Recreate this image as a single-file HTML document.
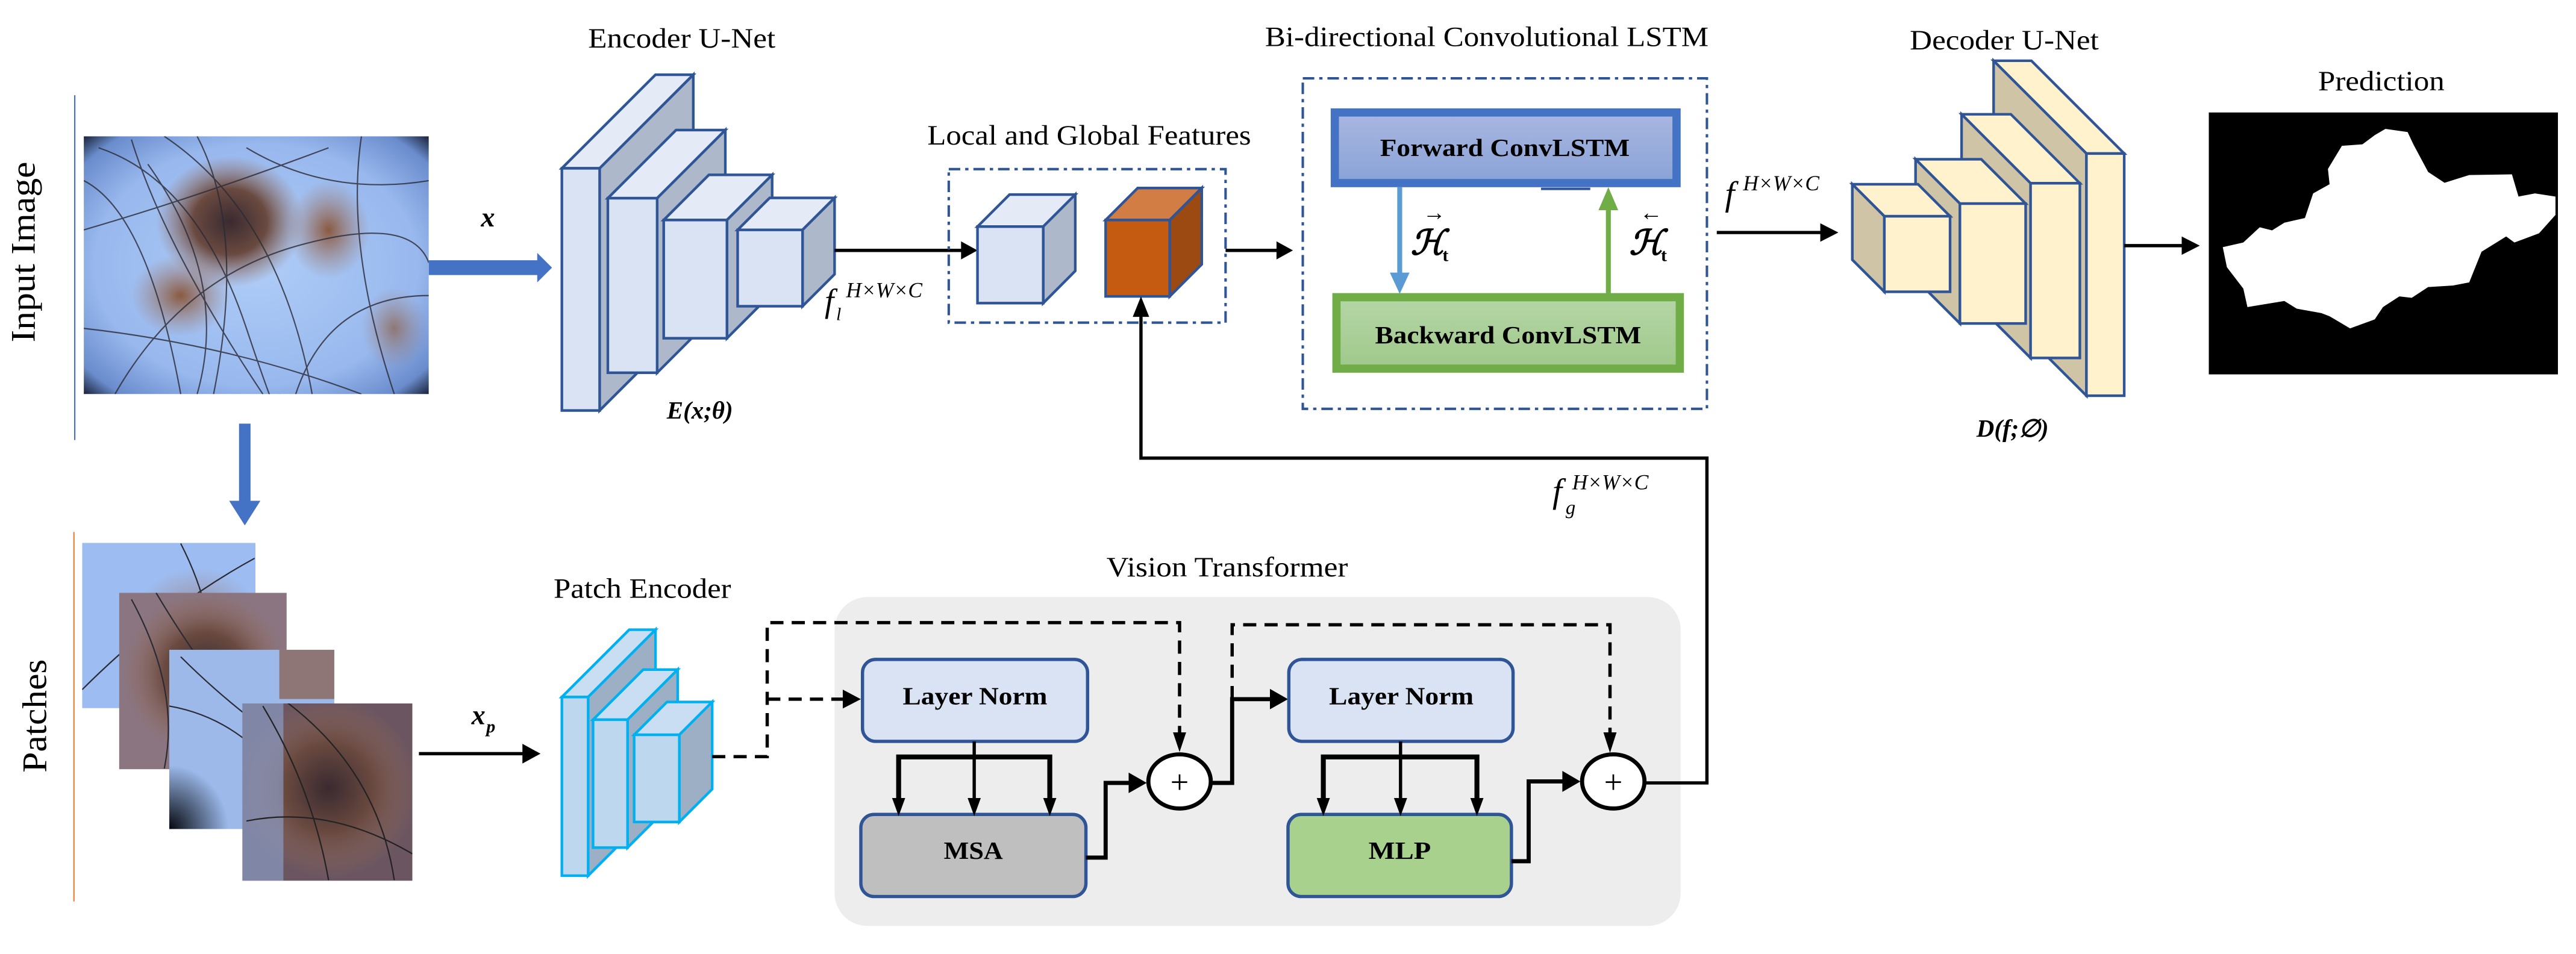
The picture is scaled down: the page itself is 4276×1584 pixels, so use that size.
<!DOCTYPE html>
<html><head><meta charset="utf-8"><style>
html,body{margin:0;padding:0;background:#fff;}
svg{display:block;}
text{font-family:"Liberation Serif",serif;}
</style></head><body>
<svg width="4276" height="1584" viewBox="0 0 1568 581" preserveAspectRatio="none" xmlns="http://www.w3.org/2000/svg">
<defs>
<radialGradient id="skin" cx="50%" cy="50%" r="72%">
<stop offset="0" stop-color="#b0cdf7"/><stop offset="0.65" stop-color="#98b8ee"/><stop offset="0.88" stop-color="#6a8ccc"/><stop offset="1" stop-color="#0b1020"/>
</radialGradient>
<radialGradient id="lesion" cx="50%" cy="50%" r="50%">
<stop offset="0" stop-color="#3a2a30"/><stop offset="0.5" stop-color="#6a4a40"/><stop offset="1" stop-color="#9a7060" stop-opacity="0"/>
</radialGradient>
<radialGradient id="brown" cx="50%" cy="50%" r="50%">
<stop offset="0" stop-color="#8a5a40"/><stop offset="1" stop-color="#a07a70" stop-opacity="0"/>
</radialGradient>
<radialGradient id="dark" cx="0%" cy="100%" r="60%">
<stop offset="0" stop-color="#05080f"/><stop offset="1" stop-color="#05080f" stop-opacity="0"/>
</radialGradient>
<linearGradient id="fwd" x1="0" y1="0" x2="0" y2="1"><stop offset="0" stop-color="#a9b6e0"/><stop offset="1" stop-color="#89a3d7"/></linearGradient>
<linearGradient id="bwd" x1="0" y1="0" x2="0" y2="1"><stop offset="0" stop-color="#b5d6a6"/><stop offset="1" stop-color="#9fc88a"/></linearGradient>
<clipPath id="cin"><rect x="51" y="83" width="210" height="157"/></clipPath>
<clipPath id="cp1"><rect x="50" y="330.6" width="105.5" height="100.7"/></clipPath>
<clipPath id="cp2"><rect x="72.5" y="361" width="102" height="107.5"/></clipPath>
<clipPath id="cp3"><rect x="103" y="395.7" width="100.5" height="109.2"/></clipPath>
<clipPath id="cp4"><rect x="147.5" y="428.4" width="103.5" height="108"/></clipPath>
</defs>

<line x1="45.5" y1="58" x2="45.5" y2="268" stroke="#4472c4" stroke-width="0.8"/>
<text transform="translate(21,153.5) rotate(-90)" font-size="21" text-anchor="middle" textLength="110" lengthAdjust="spacingAndGlyphs">Input Image</text>
<line x1="45" y1="324" x2="45" y2="549" stroke="#ed7d31" stroke-width="0.8"/>
<text transform="translate(28,436) rotate(-90)" font-size="21" text-anchor="middle" textLength="69" lengthAdjust="spacingAndGlyphs">Patches</text>

<g clip-path="url(#cin)">
<rect x="51" y="83" width="210" height="157" fill="url(#skin)"/>
<ellipse cx="140" cy="135" rx="45" ry="40" fill="url(#lesion)"/>
<ellipse cx="110" cy="180" rx="30" ry="25" fill="url(#brown)"/>
<ellipse cx="200" cy="140" rx="25" ry="30" fill="url(#brown)"/>
<ellipse cx="240" cy="200" rx="20" ry="25" fill="url(#brown)" opacity="0.7"/>
<g fill="none" stroke="#2a2a35" stroke-width="0.8" opacity="0.8">
<path d="M60 90 Q120 110 150 200 T170 240"/><path d="M80 85 Q100 150 160 240"/><path d="M51 140 Q120 120 200 90"/>
<path d="M70 240 Q110 170 180 150 T261 160"/><path d="M120 83 Q150 140 130 240"/><path d="M51 200 Q140 210 220 240"/>
<path d="M150 90 Q200 120 261 110"/><path d="M90 100 Q140 170 120 240"/><path d="M180 240 Q200 180 261 180"/>
<path d="M51 110 Q90 130 110 240"/><path d="M220 83 Q210 150 240 240"/><path d="M100 83 Q170 130 190 240"/>
</g>
</g>

<rect x="261" y="158.5" width="67" height="9" fill="#4472c4"/>
<polygon points="327,154 336,163 327,172" fill="#4472c4"/>
<text x="297" y="138" font-size="17" font-weight="bold" font-style="italic" text-anchor="middle">x</text>

<rect x="145.5" y="258" width="7" height="48" fill="#4472c4"/>
<polygon points="139.5,305 158.5,305 149,320" fill="#4472c4"/>

<g stroke="#2f5597" stroke-width="1.6" stroke-linejoin="miter">
<polygon points="342,102.5 399,45.5 422,45.5 365,102.5" fill="#e4ebf7"/>
<polygon points="365,102.5 422,45.5 422,193 365,250" fill="#adb9ca"/>
<rect x="342" y="102.5" width="23" height="147.5" fill="#dae3f3"/>
<polygon points="370,120.7 411.5,79.2 441.5,79.2 400,120.7" fill="#e4ebf7"/>
<polygon points="400,120.7 441.5,79.2 441.5,185.5 400,227" fill="#adb9ca"/>
<rect x="370" y="120.7" width="30" height="106.3" fill="#dae3f3"/>
<polygon points="404,134 431.5,106.5 470,106.5 442.5,134" fill="#e4ebf7"/>
<polygon points="442.5,134 470,106.5 470,178.5 442.5,206" fill="#adb9ca"/>
<rect x="404" y="134" width="38.5" height="72" fill="#dae3f3"/>
<polygon points="449,140 468.5,120.5 508,120.5 488.5,140" fill="#e4ebf7"/>
<polygon points="488.5,140 508,120.5 508,167 488.5,186.5" fill="#adb9ca"/>
<rect x="449" y="140" width="39.5" height="46.5" fill="#dae3f3"/>
</g>
<text x="415" y="29" font-size="17" text-anchor="middle" textLength="114" lengthAdjust="spacingAndGlyphs">Encoder U-Net</text>
<text x="426" y="255" font-size="15" font-weight="bold" font-style="italic" text-anchor="middle">E(x;θ)</text>
<text x="502" y="190" font-size="20" font-style="italic">f</text>
<text x="509" y="195" font-size="11" font-style="italic">l</text>
<text x="515" y="181" font-size="13" font-style="italic">H×W×C</text>

<line x1="508" y1="152.5" x2="586" y2="152.5" stroke="#000" stroke-width="2"/>
<polygon points="585,147 595,152.5 585,158" fill="#000"/>

<text x="663" y="88" font-size="17" text-anchor="middle" textLength="197" lengthAdjust="spacingAndGlyphs">Local and Global Features</text>
<rect x="577.5" y="103" width="168.5" height="93.5" fill="none" stroke="#2f5597" stroke-width="1.5" stroke-dasharray="7,3,2,3"/>
<g stroke="#2f5597" stroke-width="1.6">
<polygon points="595,138 614.5,118.5 654.5,118.5 635,138" fill="#e4ebf7"/>
<polygon points="635,138 654.5,118.5 654.5,165 635,184.6" fill="#adb9ca"/>
<rect x="595" y="138" width="40" height="46.6" fill="#dae3f3"/>
<polygon points="673,134 692.5,114.5 731.5,114.5 712,134" fill="#d17d43"/>
<polygon points="712,134 731.5,114.5 731.5,161 712,180.5" fill="#9c4a12"/>
<rect x="673" y="134" width="39" height="46.5" fill="#c55a11"/>
</g>

<line x1="746" y1="152.5" x2="778" y2="152.5" stroke="#000" stroke-width="2"/>
<polygon points="777,147 787,152.5 777,158" fill="#000"/>

<text x="905" y="28" font-size="17" text-anchor="middle" textLength="270" lengthAdjust="spacingAndGlyphs">Bi-directional Convolutional LSTM</text>
<rect x="793" y="47.7" width="246" height="201.3" fill="none" stroke="#2f5597" stroke-width="1.5" stroke-dasharray="7,3,2,3"/>
<rect x="812.5" y="68.5" width="208" height="43" fill="url(#fwd)" stroke="#4472c4" stroke-width="5"/>
<text x="916" y="95" font-size="15" font-weight="bold" text-anchor="middle" textLength="152" lengthAdjust="spacingAndGlyphs">Forward ConvLSTM</text>
<rect x="813.5" y="181" width="209" height="43.5" fill="url(#bwd)" stroke="#70ad47" stroke-width="5"/>
<text x="918" y="209" font-size="15" font-weight="bold" text-anchor="middle" textLength="162" lengthAdjust="spacingAndGlyphs">Backward ConvLSTM</text>
<line x1="852" y1="114" x2="852" y2="168" stroke="#5b9bd5" stroke-width="3"/>
<polygon points="846,166 858,166 852,179" fill="#5b9bd5"/>
<line x1="979" y1="178.6" x2="979" y2="125" stroke="#70ad47" stroke-width="3"/>
<polygon points="973,128 985,128 979,114" fill="#70ad47"/>
<line x1="938" y1="115" x2="968" y2="115" stroke="#2f5597" stroke-width="1.5"/>
<text x="873" y="134" font-size="14" text-anchor="middle">→</text>
<text x="869" y="155" font-size="21" font-weight="bold" font-style="italic" text-anchor="middle">ℋ</text>
<text x="878" y="159" font-size="11" font-weight="bold">t</text>
<text x="1005" y="134" font-size="14" text-anchor="middle">←</text>
<text x="1002" y="155" font-size="21" font-weight="bold" font-style="italic" text-anchor="middle">ℋ</text>
<text x="1011" y="159" font-size="11" font-weight="bold">t</text>

<text x="1050" y="125" font-size="21" font-style="italic">f</text>
<text x="1061" y="116" font-size="13" font-style="italic">H×W×C</text>
<line x1="1045" y1="141.6" x2="1110" y2="141.6" stroke="#000" stroke-width="2"/>
<polygon points="1108,136 1119,141.6 1108,147.2" fill="#000"/>

<text x="1220" y="30" font-size="17" text-anchor="middle" textLength="115" lengthAdjust="spacingAndGlyphs">Decoder U-Net</text>
<g stroke="#2f5597" stroke-width="1.6">
<polygon points="1270,93.5 1213.5,37 1236.5,37 1293,93.5" fill="#fff2cc"/>
<polygon points="1270,93.5 1213.5,37 1213.5,184.5 1270,241" fill="#cfc4a6"/>
<rect x="1270" y="93.5" width="23" height="147.5" fill="#fff2cc"/>
<polygon points="1236,111.6 1194,69.6 1224,69.6 1266,111.6" fill="#fff2cc"/>
<polygon points="1236,111.6 1194,69.6 1194,176 1236,218" fill="#cfc4a6"/>
<rect x="1236" y="111.6" width="30" height="106.4" fill="#fff2cc"/>
<polygon points="1193,124 1166,97 1206,97 1233,124" fill="#fff2cc"/>
<polygon points="1193,124 1166,97 1166,170 1193,197" fill="#cfc4a6"/>
<rect x="1193" y="124" width="40" height="73" fill="#fff2cc"/>
<polygon points="1147,131.7 1127.5,112.2 1167.5,112.2 1187,131.7" fill="#fff2cc"/>
<polygon points="1147,131.7 1127.5,112.2 1127.5,158.2 1147,177.7" fill="#cfc4a6"/>
<rect x="1147" y="131.7" width="40" height="46" fill="#fff2cc"/>
</g>
<text x="1225" y="266" font-size="15" font-weight="bold" font-style="italic" text-anchor="middle">D(f;∅)</text>
<line x1="1293" y1="149.6" x2="1330" y2="149.6" stroke="#000" stroke-width="2"/>
<polygon points="1328,144 1339,149.6 1328,155.2" fill="#000"/>

<text x="1449.5" y="55" font-size="17" text-anchor="middle" textLength="77" lengthAdjust="spacingAndGlyphs">Prediction</text>
<rect x="1344.5" y="68.5" width="212.5" height="159.5" fill="#000"/>
<polygon fill="#fff" points="1452,78.5 1465.5,80.4 1469,87.9 1478,104.7 1488,111.3 1503,106.6 1529,106.2 1533,119.7 1543,117.8 1555.5,119.7 1555.5,130.9 1545.5,142.1 1530.5,147.7 1525.5,144 1510.5,153.3 1503,172 1493,173.9 1478,174.8 1468,181.4 1460.5,180.5 1450.5,187 1445.5,194.5 1430.5,200 1418,192.6 1413,190.7 1398,188 1390.5,183.3 1368,187 1365.5,175.8 1355.5,162.7 1353,150.5 1365.5,147.7 1375.5,138.4 1383,140.3 1390.5,135.6 1403,132.8 1408,117.8 1418,112.2 1417,102.9 1425.5,88.8 1438,87.9 1445.5,82.3"/>

<g clip-path="url(#cp1)"><rect x="50" y="330.6" width="105.5" height="100.7" fill="#9dbdf2"/><ellipse cx="120" cy="380" rx="40" ry="35" fill="url(#brown)" opacity="0.7"/><path d="M50 420 Q100 370 155 340 M110 331 Q140 390 120 431" stroke="#2a2a35" stroke-width="0.8" fill="none"/></g>
<g clip-path="url(#cp2)"><rect x="72.5" y="361" width="102" height="107.5" fill="#8a7580"/><ellipse cx="125" cy="410" rx="50" ry="50" fill="url(#lesion)"/><path d="M80 365 Q110 420 100 468 M95 361 Q130 420 170 460" stroke="#2a2a35" stroke-width="0.8" fill="none"/></g>
<g clip-path="url(#cp3)"><rect x="103" y="395.7" width="100.5" height="109.2" fill="#9cb9ea"/><rect x="170" y="395.7" width="33.5" height="30" fill="#8a5a45" opacity="0.7"/><rect x="103" y="440" width="60" height="65" fill="url(#dark)"/><path d="M110 400 Q150 440 200 470 M103 430 Q160 440 190 505" stroke="#2a2a35" stroke-width="0.8" fill="none"/></g>
<g clip-path="url(#cp4)"><rect x="147.5" y="428.4" width="103.5" height="108" fill="#6a5560"/><ellipse cx="200" cy="480" rx="55" ry="55" fill="url(#lesion)"/><rect x="147.5" y="428.4" width="25" height="108" fill="#8fa6d6" opacity="0.6"/><path d="M160 430 Q190 480 200 536 M175 428 Q230 470 240 536 M150 500 Q200 490 251 520" stroke="#222" stroke-width="0.8" fill="none"/></g>

<line x1="255" y1="459" x2="320" y2="459" stroke="#000" stroke-width="2"/>
<polygon points="318,453 329,459 318,465" fill="#000"/>
<text x="287" y="441" font-size="17" font-weight="bold" font-style="italic">x</text>
<text x="296" y="446" font-size="11" font-weight="bold" font-style="italic">p</text>

<text x="391" y="364" font-size="17" text-anchor="middle" textLength="108" lengthAdjust="spacingAndGlyphs">Patch Encoder</text>
<g stroke="#00b0f0" stroke-width="1.6">
<polygon points="342,424.5 383,383.5 399,383.5 358,424.5" fill="#c9def2"/>
<polygon points="358,424.5 399,383.5 399,492.3 358,533.3" fill="#9dafc4"/>
<rect x="342" y="424.5" width="16" height="108.8" fill="#bdd7ee"/>
<polygon points="361,438.3 391.5,407.8 412.5,407.8 382,438.3" fill="#c9def2"/>
<polygon points="382,438.3 412.5,407.8 412.5,485.7 382,516.2" fill="#9dafc4"/>
<rect x="361" y="438.3" width="21" height="77.9" fill="#bdd7ee"/>
<polygon points="386,447.5 406,427.5 433.5,427.5 413.5,447.5" fill="#c9def2"/>
<polygon points="413.5,447.5 433.5,427.5 433.5,480.6 413.5,500.6" fill="#9dafc4"/>
<rect x="386" y="447.5" width="27.5" height="53.1" fill="#bdd7ee"/>
</g>

<rect x="508" y="363.6" width="515" height="200.3" rx="20" fill="#ededed"/>
<text x="747" y="351" font-size="17" text-anchor="middle" textLength="147" lengthAdjust="spacingAndGlyphs">Vision Transformer</text>

<g fill="none" stroke="#000" stroke-width="2" stroke-dasharray="8,5">
<polyline points="433.5,460.8 467,460.8 467,379.2 718,379.2 718,449"/>
<line x1="467" y1="425.8" x2="514" y2="425.8"/>
<polyline points="750,425.8 750,380.5 980,380.5 980,449"/>
</g>
<polygon points="513,420 524,425.8 513,431.5" fill="#000"/>
<polygon points="714,446 722,446 718,458" fill="#000"/>
<polygon points="976,446 984,446 980,458.5" fill="#000"/>

<rect x="525" y="401.6" width="137" height="49.9" rx="8" fill="#dae3f3" stroke="#2f5597" stroke-width="2"/>
<text x="593.5" y="429" font-size="15" font-weight="bold" text-anchor="middle" textLength="88" lengthAdjust="spacingAndGlyphs">Layer Norm</text>
<rect x="524" y="496" width="137" height="50" rx="8" fill="#bfbfbf" stroke="#2f5597" stroke-width="2"/>
<text x="592.5" y="523" font-size="15" font-weight="bold" text-anchor="middle" textLength="36" lengthAdjust="spacingAndGlyphs">MSA</text>
<line x1="593" y1="451.5" x2="593" y2="487" stroke="#000" stroke-width="2"/>
<polyline points="547,488 547,461 639,461 639,488" fill="none" stroke="#000" stroke-width="3"/>
<polygon points="543,486 551,486 547,497" fill="#000"/>
<polygon points="589,486 597,486 593,497" fill="#000"/>
<polygon points="635,486 643,486 639,497" fill="#000"/>
<polyline points="661,522.3 673,522.3 673,476.8 688,476.8" fill="none" stroke="#000" stroke-width="2.5"/>
<polygon points="687,470.5 698,476.8 687,483" fill="#000"/>
<ellipse cx="718" cy="475.9" rx="19" ry="16.5" fill="#fff" stroke="#000" stroke-width="2.5"/>
<text x="718" y="483" font-size="20" text-anchor="middle">+</text>
<polyline points="737,476.8 750,476.8 750,425.8 774,425.8" fill="none" stroke="#000" stroke-width="2.5"/>
<polygon points="773,419.5 784,425.8 773,432" fill="#000"/>

<rect x="784.5" y="401.6" width="136.5" height="49.9" rx="8" fill="#dae3f3" stroke="#2f5597" stroke-width="2"/>
<text x="853" y="429" font-size="15" font-weight="bold" text-anchor="middle" textLength="88" lengthAdjust="spacingAndGlyphs">Layer Norm</text>
<rect x="784" y="496" width="136" height="50" rx="8" fill="#a9d18e" stroke="#2f5597" stroke-width="2"/>
<text x="852" y="523" font-size="15" font-weight="bold" text-anchor="middle" textLength="38" lengthAdjust="spacingAndGlyphs">MLP</text>
<line x1="852.5" y1="451.5" x2="852.5" y2="487" stroke="#000" stroke-width="2"/>
<polyline points="805.5,488 805.5,461 899,461 899,488" fill="none" stroke="#000" stroke-width="3"/>
<polygon points="801.5,486 809.5,486 805.5,497" fill="#000"/>
<polygon points="848.5,486 856.5,486 852.5,497" fill="#000"/>
<polygon points="895,486 903,486 899,497" fill="#000"/>
<polyline points="920,524.5 930.5,524.5 930.5,475.9 952,475.9" fill="none" stroke="#000" stroke-width="2.5"/>
<polygon points="951,469.5 962,475.9 951,482.3" fill="#000"/>
<ellipse cx="982" cy="475.9" rx="19" ry="16.5" fill="#fff" stroke="#000" stroke-width="2.5"/>
<text x="982" y="483" font-size="20" text-anchor="middle">+</text>

<polyline points="1001,476.8 1039,476.8 1039,279 694.5,279 694.5,192" fill="none" stroke="#000" stroke-width="2"/>
<polygon points="689.5,193 699.5,193 694.5,180.5" fill="#000"/>
<text x="945" y="306" font-size="21" font-style="italic">f</text>
<text x="953" y="313" font-size="12" font-style="italic">g</text>
<text x="957" y="298" font-size="13" font-style="italic">H×W×C</text>
</svg>
</body></html>
